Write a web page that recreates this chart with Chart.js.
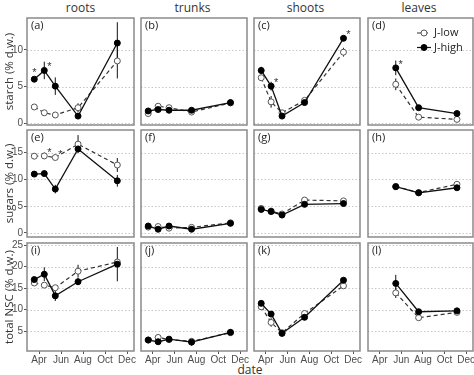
<!DOCTYPE html>
<html>
<head>
<meta charset="utf-8">
<script src="https://cdn.jsdelivr.net/npm/chart.js@4.4.1/dist/chart.umd.min.js"></script>
<style>
  html, body { margin: 0; padding: 0; background: #fff; }
  #wrap { position: relative; width: 474px; height: 375px; overflow: hidden; font-family: "Open Sans", sans-serif; color: #333; }
  #wrap canvas { position: absolute; }
  .lbl { position: absolute; font-size: 12px; line-height: 14px; transform: translateX(-50%); white-space: nowrap; }
</style>
</head>
<body>
<div id="wrap"></div>
<script>
// categories and labels
const organs = ["roots", "trunks", "shoots", "leaves"];
const measures = ["starch (% d.w.)", "sugars (% d.w.)", "total NSC (% d.w.)"];
const panelTags = [["(a)", "(b)", "(c)", "(d)"], ["(e)", "(f)", "(g)", "(h)"], ["(i)", "(j)", "(k)", "(l)"]];
const seriesNames = ["J-low", "J-high"];
const monthTicks = [4, 6, 8, 10, 12];
const monthLabels = ["Apr", "Jun", "Aug", "Oct", "Dec"];
// sampling dates as month number (4 = 1 April)
const sampleMonths = [3.57, 4.48, 5.48, 7.55, 11.12];
const leafMonths = [5.48, 7.6, 11.15];
const yTicks = [[0, 5, 10], [0, 5, 10, 15], [5, 10, 15, 20, 25]];
const yMin = [-0.27, -0.75, 0.34];
const yMax = [14.38, 19.24, 25.53];

// starch, per organ: roots, trunks, shoots, leaves
const starchHigh = [[6.0, 7.2, 5.05, 0.95, 10.95], [1.65, 1.85, 1.75, 1.75, 2.8], [7.2, 5.05, 0.95, 2.8, 11.6], [7.55, 2.1, 1.3]];
const starchHighErr = [[0.3, 1.2, 1.2, 0.2, 2.85], [0.2, 0.2, 0.2, 0.3, 0.2], [0.5, 0.6, 0.2, 0.3, 0.3], [1.0, 0.3, 0.2]];
const starchLow = [[2.2, 1.4, 1.1, 2.1, 8.5], [1.3, 2.3, 2.1, 1.5, 2.75], [6.2, 2.9, 1.4, 3.1, 9.7], [5.3, 0.8, 0.5]];
const starchLowErr = [[0.4, 0.2, 0.2, 0.6, 2.4], [0.2, 0.2, 0.2, 0.2, 0.2], [0.4, 0.8, 0.2, 0.3, 0.6], [0.8, 0.2, 0.1]];
// significance marks: [series, point index, placement]
const starchStars = [[["high", 0, "up"], ["high", 1, "right"]], [], [["high", 1, "right"], ["high", 4, "right"]], [["high", 0, "right"]]];

// sugars
const sugarsHigh = [[11.0, 11.1, 8.2, 15.7, 9.75], [1.3, 0.7, 1.3, 0.7, 1.8], [4.4, 4.0, 3.35, 5.35, 5.5], [8.65, 7.5, 8.45]];
const sugarsHighErr = [[0.3, 0.5, 0.8, 0.6, 1.1], [0.2, 0.2, 0.5, 0.2, 0.2], [0.3, 0.3, 0.3, 0.3, 0.2], [0.5, 0.3, 0.3]];
const sugarsLow = [[14.35, 14.4, 14.1, 16.6, 12.7], [1.1, 1.2, 0.9, 1.05, 1.9], [4.6, 4.1, 3.55, 6.15, 6.0], [8.7, 7.55, 9.1]];
const sugarsLowErr = [[0.5, 0.6, 0.5, 1.7, 1.3], [0.2, 0.2, 0.2, 0.2, 0.2], [0.3, 0.3, 0.2, 0.3, 0.2], [0.3, 0.3, 0.3]];
const sugarsStars = [[["low", 1, "right"], ["low", 2, "right"]], [], [], []];

// total NSC
const nscHigh = [[17.0, 18.25, 13.2, 16.5, 20.6], [2.9, 2.5, 3.1, 2.4, 4.7], [11.45, 8.95, 4.45, 8.2, 16.85], [16.1, 9.5, 9.7]];
const nscHighErr = [[0.5, 1.6, 1.2, 0.8, 4.0], [0.2, 0.3, 0.6, 0.8, 0.3], [0.4, 0.5, 0.3, 0.5, 0.5], [2.0, 0.3, 0.3]];
const nscLow = [[16.2, 15.7, 15.1, 18.95, 21.1], [2.9, 3.5, 3.0, 2.6, 4.6], [10.65, 7.0, 4.6, 9.1, 15.55], [13.9, 8.1, 9.35]];
const nscLowErr = [[0.5, 0.4, 0.4, 1.5, 0.8], [0.2, 0.2, 0.2, 0.2, 0.2], [0.5, 1.0, 0.3, 0.4, 0.5], [1.2, 0.3, 0.3]];
const nscStars = [[], [], [], []];

const rows = [
  { high: starchHigh, highErr: starchHighErr, low: starchLow, lowErr: starchLowErr, stars: starchStars },
  { high: sugarsHigh, highErr: sugarsHighErr, low: sugarsLow, lowErr: sugarsLowErr, stars: sugarsStars },
  { high: nscHigh, highErr: nscHighErr, low: nscLow, lowErr: nscLowErr, stars: nscStars }
];

// layout of the panel frames
const colLeft = [27, 138, 251, 365];
const colRight = [134, 247, 360, 473];
const rowTop = [18, 130, 243];
const rowBottom = [125, 237, 351];

const wrap = document.getElementById("wrap");
Chart.defaults.font.family = "'Liberation Sans', Arial, sans-serif";
Chart.defaults.color = "#4d4d4d";

function addLabel(text, cx, top) {
  const d = document.createElement("div");
  d.className = "lbl";
  d.textContent = text;
  d.style.left = cx + "px";
  d.style.top = top + "px";
  wrap.appendChild(d);
}

function toPoints(months, vals) {
  return vals.map((v, i) => ({ x: months[i], y: v }));
}

function makeDecor(r, c) {
  return {
    id: "decor",
    beforeDatasetsDraw(chart) {
      const { ctx, chartArea: a, scales: { x, y } } = chart;
      ctx.save();
      ctx.strokeStyle = "#c8c8c8";
      ctx.lineWidth = 1;
      ctx.setLineDash([1.5, 2]);
      yTicks[r].forEach((v) => {
        const py = Math.round(y.getPixelForValue(v)) + 0.5;
        ctx.beginPath();
        ctx.moveTo(a.left, py);
        ctx.lineTo(a.right, py);
        ctx.stroke();
      });
      ctx.setLineDash([]);
      ctx.strokeStyle = "#111";
      chart.data.datasets.forEach((ds) => {
        ds.data.forEach((p, i) => {
          const px = x.getPixelForValue(p.x);
          ctx.beginPath();
          ctx.moveTo(px, y.getPixelForValue(p.y - ds.err[i]));
          ctx.lineTo(px, y.getPixelForValue(p.y + ds.err[i]));
          ctx.stroke();
        });
      });
      ctx.restore();
    },
    afterDraw(chart) {
      const { ctx, chartArea: a, scales: { x, y } } = chart;
      ctx.save();
      // significance stars
      ctx.fillStyle = "#333";
      ctx.font = "11px 'Liberation Sans', Arial, sans-serif";
      ctx.textAlign = "center";
      ctx.textBaseline = "middle";
      rows[r].stars[c].forEach(([s, i, place]) => {
        const ds = chart.data.datasets[s === "low" ? 0 : 1];
        const p = ds.data[i];
        const dx = place === "up" ? 0 : 5;
        const dy = place === "up" ? -6 : -3;
        ctx.fillText("*", x.getPixelForValue(p.x) + dx, y.getPixelForValue(p.y) + dy);
      });
      // panel tag
      ctx.fillStyle = "#222";
      ctx.font = "11px 'Open Sans', sans-serif";
      ctx.textAlign = "left";
      ctx.fillText(panelTags[r][c], a.left + 4, a.top + 8);
      // legend in the first leaves panel
      if (r === 0 && c === 3) {
        chart.data.datasets.forEach((ds, k) => {
          const ly = a.top + 15 + k * 14.5;
          const lx = a.left + 49;
          ctx.strokeStyle = ds.borderColor;
          ctx.lineWidth = 1.2;
          ctx.setLineDash(ds.borderDash || []);
          ctx.beginPath();
          ctx.moveTo(lx, ly);
          ctx.lineTo(lx + 14, ly);
          ctx.stroke();
          ctx.setLineDash([]);
          ctx.beginPath();
          ctx.arc(lx + 7, ly, 3, 0, Math.PI * 2);
          ctx.fillStyle = ds.pointBackgroundColor;
          ctx.fill();
          ctx.strokeStyle = ds.pointBorderColor;
          ctx.lineWidth = 1;
          ctx.stroke();
          ctx.fillStyle = "#222";
          ctx.font = "11px 'Open Sans', sans-serif";
          ctx.fillText(ds.label, lx + 17, ly);
        });
      }
      // frame
      ctx.strokeStyle = "#8a8a8a";
      ctx.lineWidth = 1.5;
      ctx.strokeRect(a.left, a.top, a.right - a.left, a.bottom - a.top);
      ctx.restore();
    }
  };
}

organs.forEach((o, c) => addLabel(o, (colLeft[c] + colRight[c]) / 2, 1));
addLabel("date", (colLeft[0] + colRight[3]) / 2, 363);

rows.forEach((row, r) => {
  organs.forEach((o, c) => {
    const months = c === 3 ? leafMonths : sampleMonths;
    const padTop = 8, padRight = 6, padLeft = c === 0 ? 0 : 2;
    const padBottom = r < 2 ? 8 : 0;
    const yAxisW = c === 0 ? 27 : 0;
    const xAxisH = r === 2 ? 24 : 0;
    const left = c === 0 ? 0 : colLeft[c] - padLeft;
    const top = rowTop[r] - padTop;
    const w = colRight[c] + padRight - left;
    const h = rowBottom[r] + padBottom + xAxisH - top;

    const cv = document.createElement("canvas");
    cv.width = w;
    cv.height = h;
    cv.style.left = left + "px";
    cv.style.top = top + "px";
    cv.style.width = w + "px";
    cv.style.height = h + "px";
    wrap.appendChild(cv);

    new Chart(cv, {
      type: "line",
      data: {
        datasets: [
          {
            label: seriesNames[0],
            data: toPoints(months, row.low[c]),
            err: row.lowErr[c],
            borderColor: "#333",
            borderWidth: 1.2,
            borderDash: [4, 3],
            pointRadius: 3,
            pointBackgroundColor: "#fff",
            pointBorderColor: "#555",
            pointBorderWidth: 1,
            order: 2
          },
          {
            label: seriesNames[1],
            data: toPoints(months, row.high[c]),
            err: row.highErr[c],
            borderColor: "#111",
            borderWidth: 1.3,
            pointRadius: 3,
            pointBackgroundColor: "#000",
            pointBorderColor: "#000",
            pointBorderWidth: 1,
            order: 1
          }
        ]
      },
      options: {
        responsive: false,
        animation: false,
        devicePixelRatio: 1,
        layout: { padding: { top: padTop, right: padRight, bottom: padBottom, left: padLeft } },
        plugins: { legend: { display: false }, tooltip: { enabled: false } },
        scales: {
          x: {
            type: "linear",
            min: 2.909,
            max: 12.636,
            display: r === 2,
            afterBuildTicks: (s) => { s.ticks = monthTicks.map((v) => ({ value: v })); },
            afterFit: (s) => { s.height = xAxisH; },
            ticks: {
              autoSkip: false,
              maxRotation: 0,
              padding: 0,
              font: { size: 10 },
              color: "#4d4d4d",
              callback: (v, i) => monthLabels[i]
            },
            grid: { display: true, drawOnChartArea: false, drawTicks: true, tickLength: 3, color: "#555" },
            border: { display: false }
          },
          y: {
            type: "linear",
            min: yMin[r],
            max: yMax[r],
            afterBuildTicks: (s) => { s.ticks = yTicks[r].map((v) => ({ value: v })); },
            afterFit: (s) => { s.width = yAxisW; },
            ticks: { display: c === 0, padding: 1, font: { size: 10 }, color: "#4d4d4d" },
            grid: { display: c === 0, drawOnChartArea: false, drawTicks: c === 0, tickLength: 3, color: "#555" },
            border: { display: false },
            title: {
              display: c === 0,
              text: measures[r],
              color: "#333",
              font: { size: 11.5, family: "'Open Sans', sans-serif" },
              padding: { top: 3, bottom: 0 }
            }
          }
        }
      },
      plugins: [makeDecor(r, c)]
    });
  });
});
</script>
</body>
</html>
